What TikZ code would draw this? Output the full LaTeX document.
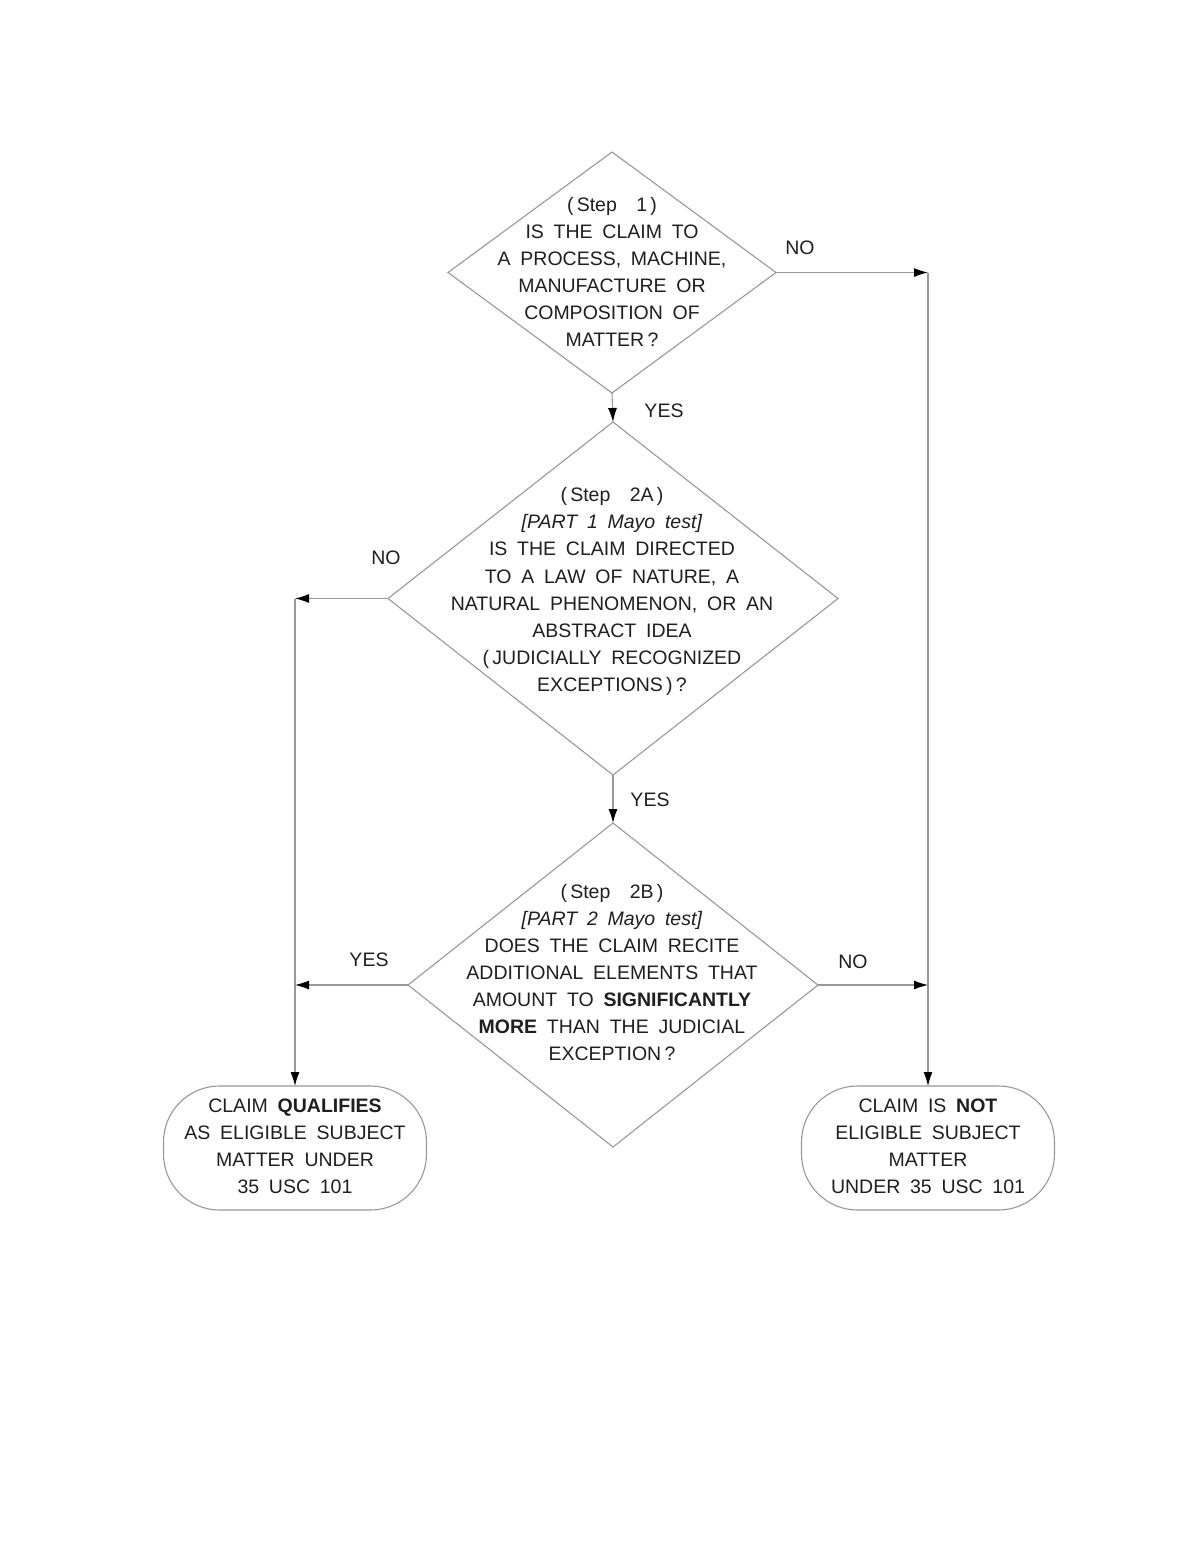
\documentclass[tikz,border=0pt]{standalone}
\usepackage{fontspec}
\setmainfont{Liberation Sans}[WordSpace=1.8]
\usetikzlibrary{shapes.geometric,arrows.meta}
\begin{document}
\begin{tikzpicture}[x=1pt,y=-1pt,
  every node/.style={inner sep=0pt,outer sep=0pt},
  dia/.style={diamond,draw=black!40,line width=1.1pt,aspect=1},
  txt/.style={align=center,font=\fontsize{19.5}{27.1}\selectfont,text=black!88},
  lbl/.style={font=\fontsize{19.5}{22}\selectfont,text=black!88},
  term/.style={draw=black!40,line width=1.1pt,rounded corners=56pt,minimum height=124pt},
  conn/.style={draw=black!40,line width=1.1pt},
  arr/.style={conn,-{Latex[length=14pt,width=9pt,color=black]}}]
\useasboundingbox (0,0) rectangle (1200,1553);
\fill[white] (0,0) rectangle (1200,1553);

% decisions
\node[dia,minimum width=328pt,minimum height=241pt] (d1) at (612,272.5) {};
\node[txt] (t1) at (612,272) {(\,Step\ \ 1\,)\\IS THE CLAIM TO\\A PROCESS, MACHINE,\\MANUFACTURE OR\\COMPOSITION OF\\MATTER\,?};

\node[dia,minimum width=450pt,minimum height=353pt] (d2) at (613,598.5) {};
\node[txt] (t2) at (612,591.5) {(\,Step\ \ 2A\,)\\\textit{[PART 1 Mayo test]}\\IS THE CLAIM DIRECTED\\TO A LAW OF NATURE, A\\NATURAL PHENOMENON, OR AN\\ABSTRACT IDEA\\(\,JUDICIALLY RECOGNIZED\\EXCEPTIONS\,)\,?};

\node[dia,minimum width=410pt,minimum height=324pt] (d3) at (613,985) {};
\node[txt] (t3) at (612,972.5) {(\,Step\ \ 2B\,)\\\textit{[PART 2 Mayo test]}\\DOES THE CLAIM RECITE\\ADDITIONAL ELEMENTS THAT\\AMOUNT TO \textbf{SIGNIFICANTLY}\\\textbf{MORE} THAN THE JUDICIAL\\EXCEPTION\,?};

% terminals
\node[term,minimum width=263pt] (lt) at (295,1148) {};
\node[txt] (tl) at (295,1146) {CLAIM \textbf{QUALIFIES}\\AS ELIGIBLE SUBJECT\\MATTER UNDER\\35 USC 101};
\node[term,minimum width=253pt] (rt) at (928,1148) {};
\node[txt] (tr) at (928,1146) {CLAIM IS \textbf{NOT}\\ELIGIBLE SUBJECT\\MATTER\\UNDER 35 USC 101};

% junctions
\coordinate (rj1) at (928,272.5);
\coordinate (rj2) at (928,985);
\coordinate (lj1) at (295,598.5);
\coordinate (lj2) at (295,985);

% connectors
\draw[arr] (d1.east) -- (rj1);
\draw[arr] (rj1) -- (rt.north);
\draw[arr] (d1.south) -- (d2.north);
\draw[arr] (d2.west) -- (lj1);
\draw[arr] (lj1) -- (lt.north);
\draw[arr] (d2.south) -- (d3.north);
\draw[arr] (d3.west) -- (lj2);
\draw[arr] (d3.east) -- (rj2);

% labels
\node[lbl] (n1) at (800,248) {NO};
\node[lbl] (y1) at (664,411) {YES};
\node[lbl] (n2) at (386,558) {NO};
\node[lbl] (y2) at (650,800) {YES};
\node[lbl] (y3) at (369,960) {YES};
\node[lbl] (n3) at (853,962) {NO};
\end{tikzpicture}
\end{document}
